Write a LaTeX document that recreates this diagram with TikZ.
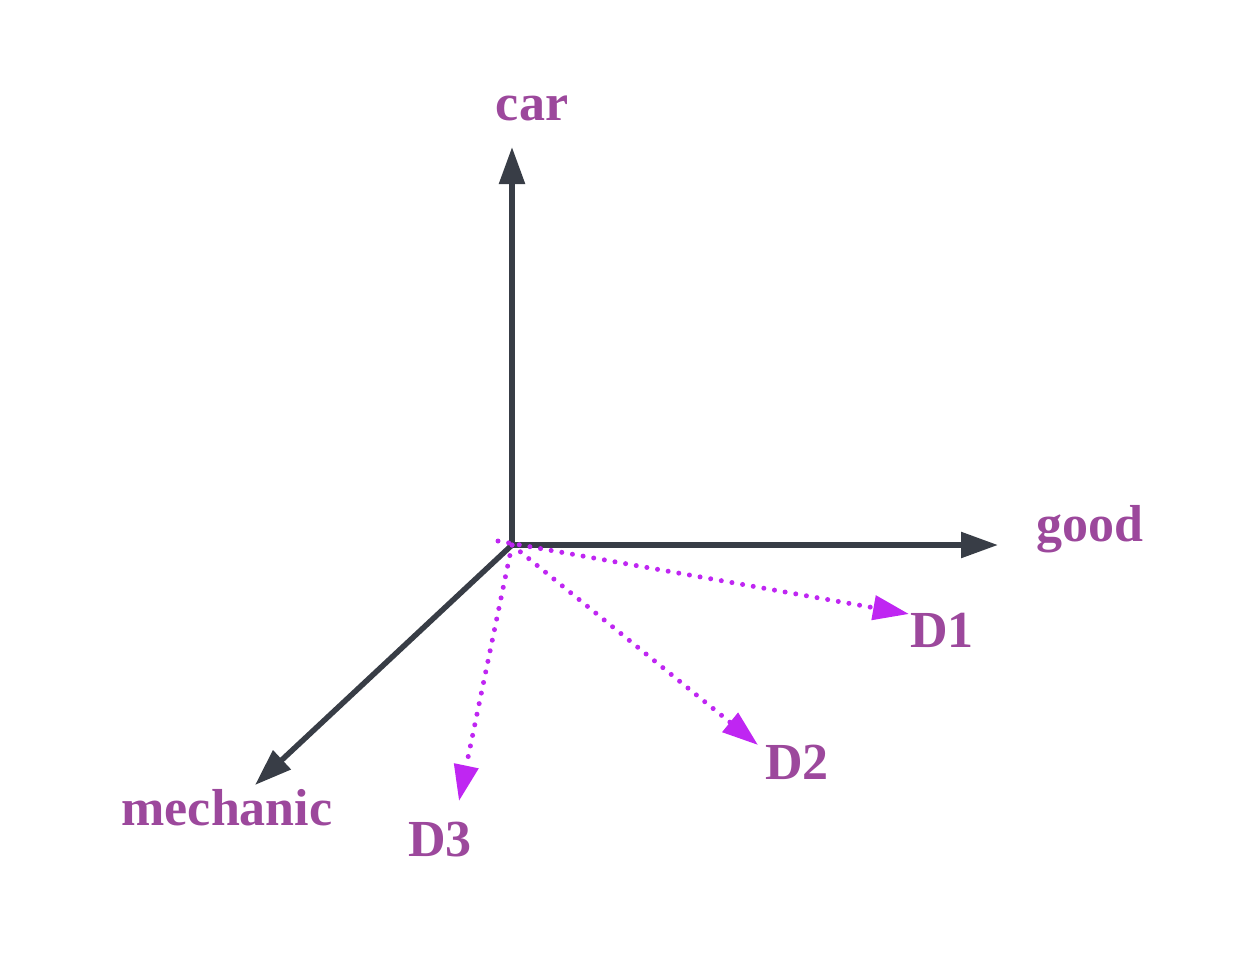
\documentclass[tikz,border=0pt]{standalone}
\usepackage{fontspec}
\setmainfont{Liberation Serif}
\usetikzlibrary{arrows.meta}
\definecolor{axiscol}{HTML}{383D46}
\definecolor{labcol}{HTML}{9C489C}
\definecolor{dotcol}{HTML}{BF26F2}
\tikzset{
  axis/.style={draw=axiscol, line width=5.5pt, -{Triangle[length=37pt,width=25pt]}},
  dvec/.style={draw=dotcol, line width=5pt, line cap=round, dash pattern=on 0pt off 10.8pt, -{Triangle[length=36pt,width=24pt,fill=dotcol]}},
  lab/.style={text=labcol, font=\fontsize{52}{60}\selectfont\bfseries, inner sep=0pt, anchor=base}
}
\begin{document}
\begin{tikzpicture}[x=1pt,y=-1pt]
\useasboundingbox (0,0) rectangle (1241,953);
\coordinate (O) at (512,545);
\coordinate (O1) at (498,541);
\coordinate (carT) at (512,147);
\coordinate (goodT) at (998,545);
\coordinate (mechT) at (255,785);
\coordinate (d1T) at (909,614);
\coordinate (d2T) at (758,745);
\coordinate (d3T) at (459,801);
\draw[axis] (O) -- (carT);
\draw[axis] (O) -- (goodT);
\draw[axis] (O) -- (mechT);
\draw[dvec] (O1) -- (d1T);
\draw[dvec] (O) -- (d2T);
\draw[dvec] (O) -- (d3T);
\node[lab] (car) at (532,120) {car};
\node[lab] (good) at (1090,541) {good};
\node[lab] (mech) at (227,825) {mechanic};
\node[lab] (d1) at (942,647) {D1};
\node[lab] (d2) at (797,779) {D2};
\node[lab] (d3) at (440,856) {D3};
\end{tikzpicture}
\end{document}
